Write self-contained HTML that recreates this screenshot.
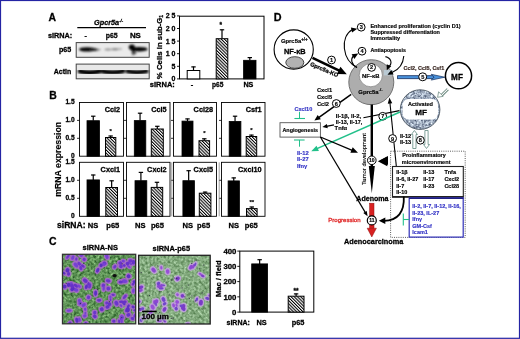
<!DOCTYPE html><html><head><meta charset="utf-8"><style>html,body{margin:0;padding:0;background:#fff;overflow:hidden}svg{display:block}</style></head><body><svg width="520" height="339" viewBox="0 0 520 339" font-family='"Liberation Sans", Arial, sans-serif'>
<defs>
<pattern id="hatch" patternUnits="userSpaceOnUse" width="2.25" height="2.25" patternTransform="rotate(-45)">
<rect width="2.25" height="2.25" fill="#fff"/><rect width="1.05" height="2.25" fill="#000"/></pattern>
<filter id="blur1" x="-20%" y="-60%" width="140%" height="220%"><feGaussianBlur stdDeviation="0.8"/></filter>
<filter id="blur08" x="-30%" y="-60%" width="160%" height="220%"><feGaussianBlur stdDeviation="1.0"/></filter>
<filter id="blur05" x="-30%" y="-30%" width="160%" height="160%"><feGaussianBlur stdDeviation="0.5"/></filter>
<filter id="blur03" x="-30%" y="-30%" width="160%" height="160%"><feGaussianBlur stdDeviation="0.35"/></filter>
<filter id="tex1" x="0" y="0" width="100%" height="100%" color-interpolation-filters="sRGB">
<feTurbulence type="fractalNoise" baseFrequency="0.45" numOctaves="2" seed="4"/>
<feColorMatrix type="matrix" values="0.85 0 0 0 -0.06  0.85 0 0 0 0.15  0.75 0 0 0 -0.04  0 0 0 0 1"/>
</filter>
<filter id="tex2" x="0" y="0" width="100%" height="100%" color-interpolation-filters="sRGB">
<feTurbulence type="fractalNoise" baseFrequency="0.45" numOctaves="2" seed="9"/>
<feColorMatrix type="matrix" values="0.75 0 0 0 0.14  0.7 0 0 0 0.32  0.75 0 0 0 0.12  0 0 0 0 1"/>
</filter>
<filter id="speck" x="0" y="0" width="100%" height="100%" color-interpolation-filters="sRGB">
<feTurbulence type="fractalNoise" baseFrequency="0.45" numOctaves="2" seed="2"/>
<feColorMatrix type="matrix" values="1.1 0 0 0 0.08  1.1 0 0 0 0.13  1.0 0 0 0 0.25  0 0 0 0 1"/>
<feGaussianBlur stdDeviation="0.3"/>
</filter>
</defs>
<rect x="0" y="0" width="520" height="339" fill="#fff"/>
<text x="48.5" y="21.1" font-size="10.4" text-anchor="start" font-weight="bold" fill="#000" stroke="#000" stroke-width="0.28" >A</text>
<text x="94" y="25.3" font-size="7.3" text-anchor="start" font-weight="bold" fill="#000" stroke="#000" stroke-width="0.28" ><tspan font-style="italic">Gpcr5a</tspan><tspan font-size="4.2" dy="-3" font-style="italic">-/-</tspan></text>
<line x1="77.3" y1="27.7" x2="146" y2="27.7" stroke="#000" stroke-width="1.2" />
<text x="48" y="37.7" font-size="7.2" text-anchor="start" font-weight="bold" fill="#000" stroke="#000" stroke-width="0.28" textLength="24.3" lengthAdjust="spacingAndGlyphs" >siRNA:</text>
<text x="85.6" y="37.7" font-size="7.2" text-anchor="middle" font-weight="bold" fill="#000" stroke="#000" stroke-width="0.28" >-</text>
<text x="111.7" y="37.7" font-size="7.2" text-anchor="middle" font-weight="bold" fill="#000" stroke="#000" stroke-width="0.28" textLength="12" lengthAdjust="spacingAndGlyphs" >p65</text>
<text x="135.4" y="37.7" font-size="7.2" text-anchor="middle" font-weight="bold" fill="#000" stroke="#000" stroke-width="0.28" textLength="11" lengthAdjust="spacingAndGlyphs" >NS</text>
<text x="71.3" y="52.2" font-size="7.2" text-anchor="end" font-weight="bold" fill="#000" stroke="#000" stroke-width="0.28" textLength="12.4" lengthAdjust="spacingAndGlyphs" >p65</text>
<text x="71.3" y="74" font-size="7.2" text-anchor="end" font-weight="bold" fill="#000" stroke="#000" stroke-width="0.28" textLength="17.5" lengthAdjust="spacingAndGlyphs" >Actin</text>
<rect x="76.2" y="42.6" width="73" height="14.7" fill="#ebebeb" stroke="#444" stroke-width="1.0" />
<rect x="76.2" y="64.1" width="73" height="14.7" fill="#e8e8e8" stroke="#444" stroke-width="1.0" />
<g filter="url(#blur08)">
<ellipse cx="87" cy="49.4" rx="8" ry="2.2" fill="#000"/>
<ellipse cx="93.5" cy="49.6" rx="6" ry="1.3" fill="#111"/>
<ellipse cx="99" cy="49.6" rx="2" ry="0.7" fill="#777"/>
<ellipse cx="108" cy="49.5" rx="3.5" ry="0.9" fill="#8a8a8a"/>
<ellipse cx="115" cy="49.2" rx="3.5" ry="1.0" fill="#7a7a7a"/>
<ellipse cx="120" cy="49.0" rx="2.2" ry="0.8" fill="#999"/>
<ellipse cx="139" cy="49.2" rx="8.6" ry="2.3" fill="#000"/>
<ellipse cx="131.8" cy="47.2" rx="3.0" ry="2.6" fill="#000"/>
<ellipse cx="133.2" cy="50" rx="1.4" ry="5.2" fill="#000"/>
<ellipse cx="134" cy="53" rx="2.5" ry="1.2" fill="#444"/>
</g><g filter="url(#blur08)" fill="none" stroke-linecap="round">
<path d="M80,71.3 Q89.5,74 99.5,71.3" stroke="#000" stroke-width="4.6"/>
<path d="M103,71.3 Q113,73.6 123,71.1" stroke="#000" stroke-width="4.4"/>
<path d="M127.5,71.3 Q137,73.4 146.5,71.3" stroke="#000" stroke-width="4.2"/>
</g>
<rect x="179.5" y="16.2" width="84.5" height="62.7" fill="none" stroke="#000" stroke-width="1" />
<line x1="177" y1="78.9" x2="179.5" y2="78.9" stroke="#000" stroke-width="0.9" />
<text x="175.5" y="81.4" font-size="7" text-anchor="end" font-weight="bold" fill="#000" stroke="#000" stroke-width="0.28" >0</text>
<line x1="177" y1="66.30000000000001" x2="179.5" y2="66.30000000000001" stroke="#000" stroke-width="0.9" />
<text x="175.5" y="68.80000000000001" font-size="7" text-anchor="end" font-weight="bold" fill="#000" stroke="#000" stroke-width="0.28" >5</text>
<line x1="177" y1="53.7" x2="179.5" y2="53.7" stroke="#000" stroke-width="0.9" />
<text x="175.5" y="56.2" font-size="7" text-anchor="end" font-weight="bold" fill="#000" stroke="#000" stroke-width="0.28" >1 0</text>
<line x1="177" y1="41.10000000000001" x2="179.5" y2="41.10000000000001" stroke="#000" stroke-width="0.9" />
<text x="175.5" y="43.60000000000001" font-size="7" text-anchor="end" font-weight="bold" fill="#000" stroke="#000" stroke-width="0.28" >1 5</text>
<line x1="177" y1="28.500000000000007" x2="179.5" y2="28.500000000000007" stroke="#000" stroke-width="0.9" />
<text x="175.5" y="31.000000000000007" font-size="7" text-anchor="end" font-weight="bold" fill="#000" stroke="#000" stroke-width="0.28" >2 0</text>
<line x1="177" y1="15.900000000000006" x2="179.5" y2="15.900000000000006" stroke="#000" stroke-width="0.9" />
<text x="175.5" y="18.400000000000006" font-size="7" text-anchor="end" font-weight="bold" fill="#000" stroke="#000" stroke-width="0.28" >2 5</text>
<text transform="translate(161.8,47) rotate(-90)" font-size="7.8" font-weight="bold" text-anchor="middle" fill="#000" stroke="#000" stroke-width="0.28">% Cells in sub-G<tspan font-size="5" dy="1.5">1</tspan></text>
<line x1="193.5" y1="66.6" x2="193.5" y2="70.5" stroke="#000" stroke-width="1.2" />
<line x1="191.3" y1="66.89999999999999" x2="195.7" y2="66.89999999999999" stroke="#000" stroke-width="1.2" />
<rect x="187.2" y="70.5" width="12.600000000000023" height="8.400000000000006" fill="#fff" stroke="#000" stroke-width="1.0" />
<line x1="222.0" y1="29.5" x2="222.0" y2="38.7" stroke="#000" stroke-width="1.2" />
<line x1="219.8" y1="29.8" x2="224.2" y2="29.8" stroke="#000" stroke-width="1.2" />
<rect x="216.2" y="38.7" width="11.600000000000023" height="40.2" fill="url(#hatch)" stroke="#000" stroke-width="1.0" />
<line x1="249.8" y1="57.3" x2="249.8" y2="60.3" stroke="#000" stroke-width="1.2" />
<line x1="247.60000000000002" y1="57.599999999999994" x2="252.0" y2="57.599999999999994" stroke="#000" stroke-width="1.2" />
<rect x="243.6" y="60.3" width="12.400000000000006" height="18.60000000000001" fill="#000" stroke="#000" stroke-width="0.8" />
<text x="220.8" y="26.5" font-size="6.5" text-anchor="middle" font-weight="bold" fill="#000" stroke="#000" stroke-width="0.28" >*</text>
<text x="149.8" y="86.9" font-size="7.4" text-anchor="start" font-weight="bold" fill="#000" stroke="#000" stroke-width="0.28" textLength="25" lengthAdjust="spacingAndGlyphs" >siRNA:</text>
<text x="191.9" y="86.9" font-size="7.4" text-anchor="middle" font-weight="bold" fill="#000" stroke="#000" stroke-width="0.28" >-</text>
<text x="217.7" y="86.9" font-size="7.4" text-anchor="middle" font-weight="bold" fill="#000" stroke="#000" stroke-width="0.28" textLength="11.5" lengthAdjust="spacingAndGlyphs" >p65</text>
<text x="248.4" y="86.9" font-size="7.4" text-anchor="middle" font-weight="bold" fill="#000" stroke="#000" stroke-width="0.28" textLength="10" lengthAdjust="spacingAndGlyphs" >NS</text>
<text x="49.2" y="99.2" font-size="10.4" text-anchor="start" font-weight="bold" fill="#000" stroke="#000" stroke-width="0.28" >B</text>
<text transform="translate(61.3,159.3) rotate(-90)" font-size="9.0" font-weight="bold" text-anchor="middle" fill="#000" stroke="#000" stroke-width="0.15" textLength="75" lengthAdjust="spacingAndGlyphs">mRNA expression</text>
<rect x="79.5" y="102.5" width="44.0" height="53.69999999999999" fill="none" stroke="#000" stroke-width="0.9" />
<line x1="77.0" y1="138.29999999999998" x2="79.5" y2="138.29999999999998" stroke="#000" stroke-width="0.8" />
<line x1="77.0" y1="120.4" x2="79.5" y2="120.4" stroke="#000" stroke-width="0.8" />
<text x="120.1" y="111.8" font-size="7.3" text-anchor="end" font-weight="bold" fill="#000" stroke="#000" stroke-width="0.28" >Ccl2</text>
<line x1="93.25" y1="115.9" x2="93.25" y2="120.69999999999999" stroke="#000" stroke-width="1.2" />
<line x1="91.05" y1="116.2" x2="95.45" y2="116.2" stroke="#000" stroke-width="1.2" />
<rect x="87" y="120.69999999999999" width="12.5" height="35.5" fill="#000" stroke="#000" stroke-width="0.8" />
<line x1="110.65" y1="135.7" x2="110.65" y2="137.5" stroke="#000" stroke-width="1.2" />
<line x1="108.45" y1="136.0" x2="112.85000000000001" y2="136.0" stroke="#000" stroke-width="1.2" />
<rect x="105.5" y="137.5" width="10.299999999999997" height="18.69999999999999" fill="url(#hatch)" stroke="#000" stroke-width="1.0" />
<text x="110.65" y="132.5" font-size="6" text-anchor="middle" font-weight="bold" fill="#000" stroke="#000" stroke-width="0.16" >*</text>
<rect x="126.5" y="102.5" width="43.5" height="53.69999999999999" fill="none" stroke="#000" stroke-width="0.9" />
<line x1="124.0" y1="138.29999999999998" x2="126.5" y2="138.29999999999998" stroke="#000" stroke-width="0.8" />
<line x1="124.0" y1="120.4" x2="126.5" y2="120.4" stroke="#000" stroke-width="0.8" />
<text x="166.6" y="111.8" font-size="7.3" text-anchor="end" font-weight="bold" fill="#000" stroke="#000" stroke-width="0.28" >Ccl5</text>
<line x1="140.05" y1="112.9" x2="140.05" y2="120.6" stroke="#000" stroke-width="1.2" />
<line x1="137.85000000000002" y1="113.2" x2="142.25" y2="113.2" stroke="#000" stroke-width="1.2" />
<rect x="134.3" y="120.6" width="11.5" height="35.599999999999994" fill="#000" stroke="#000" stroke-width="0.8" />
<line x1="157.3" y1="126.0" x2="157.3" y2="129.0" stroke="#000" stroke-width="1.2" />
<line x1="155.10000000000002" y1="126.3" x2="159.5" y2="126.3" stroke="#000" stroke-width="1.2" />
<rect x="151.3" y="129.0" width="12.0" height="27.19999999999999" fill="url(#hatch)" stroke="#000" stroke-width="1.0" />
<rect x="173.5" y="102.5" width="43.0" height="53.69999999999999" fill="none" stroke="#000" stroke-width="0.9" />
<line x1="171.0" y1="138.29999999999998" x2="173.5" y2="138.29999999999998" stroke="#000" stroke-width="0.8" />
<line x1="171.0" y1="120.4" x2="173.5" y2="120.4" stroke="#000" stroke-width="0.8" />
<text x="213.1" y="111.8" font-size="7.3" text-anchor="end" font-weight="bold" fill="#000" stroke="#000" stroke-width="0.28" >Ccl28</text>
<line x1="187.5" y1="118.60000000000001" x2="187.5" y2="121.1" stroke="#000" stroke-width="1.2" />
<line x1="185.3" y1="118.9" x2="189.7" y2="118.9" stroke="#000" stroke-width="1.2" />
<rect x="182" y="121.1" width="11" height="35.099999999999994" fill="#000" stroke="#000" stroke-width="0.8" />
<line x1="204.3" y1="138.5" x2="204.3" y2="140.7" stroke="#000" stroke-width="1.2" />
<line x1="202.10000000000002" y1="138.8" x2="206.5" y2="138.8" stroke="#000" stroke-width="1.2" />
<rect x="199" y="140.7" width="10.599999999999994" height="15.5" fill="url(#hatch)" stroke="#000" stroke-width="1.0" />
<text x="204.3" y="135.3" font-size="6" text-anchor="middle" font-weight="bold" fill="#000" stroke="#000" stroke-width="0.16" >*</text>
<rect x="221.5" y="102.5" width="43.5" height="53.69999999999999" fill="none" stroke="#000" stroke-width="0.9" />
<line x1="219.0" y1="138.29999999999998" x2="221.5" y2="138.29999999999998" stroke="#000" stroke-width="0.8" />
<line x1="219.0" y1="120.4" x2="221.5" y2="120.4" stroke="#000" stroke-width="0.8" />
<text x="261.6" y="111.8" font-size="7.3" text-anchor="end" font-weight="bold" fill="#000" stroke="#000" stroke-width="0.28" >Csf1</text>
<line x1="235.05" y1="115.9" x2="235.05" y2="121.39999999999999" stroke="#000" stroke-width="1.2" />
<line x1="232.85000000000002" y1="116.2" x2="237.25" y2="116.2" stroke="#000" stroke-width="1.2" />
<rect x="229.2" y="121.39999999999999" width="11.700000000000017" height="34.8" fill="#000" stroke="#000" stroke-width="0.8" />
<line x1="251.45" y1="134.8" x2="251.45" y2="136.5" stroke="#000" stroke-width="1.2" />
<line x1="249.25" y1="135.10000000000002" x2="253.64999999999998" y2="135.10000000000002" stroke="#000" stroke-width="1.2" />
<rect x="246.2" y="136.5" width="10.5" height="19.69999999999999" fill="url(#hatch)" stroke="#000" stroke-width="1.0" />
<text x="251.45" y="131.60000000000002" font-size="6" text-anchor="middle" font-weight="bold" fill="#000" stroke="#000" stroke-width="0.16" >*</text>
<text x="74.6" y="158.0" font-size="6.6" text-anchor="end" font-weight="bold" fill="#000" stroke="#000" stroke-width="0.28" >0</text>
<text x="74.6" y="140.1" font-size="6.6" text-anchor="end" font-weight="bold" fill="#000" stroke="#000" stroke-width="0.28" >0.5</text>
<text x="74.6" y="122.2" font-size="6.6" text-anchor="end" font-weight="bold" fill="#000" stroke="#000" stroke-width="0.28" >1.0</text>
<text x="74.6" y="104.3" font-size="6.6" text-anchor="end" font-weight="bold" fill="#000" stroke="#000" stroke-width="0.28" >1.5</text>
<rect x="79.5" y="162.3" width="44.0" height="54.0" fill="none" stroke="#000" stroke-width="0.9" />
<line x1="77.0" y1="198.3" x2="79.5" y2="198.3" stroke="#000" stroke-width="0.8" />
<line x1="77.0" y1="180.3" x2="79.5" y2="180.3" stroke="#000" stroke-width="0.8" />
<text x="120.1" y="171.60000000000002" font-size="7.3" text-anchor="end" font-weight="bold" fill="#000" stroke="#000" stroke-width="0.28" >Cxcl1</text>
<line x1="93.25" y1="174.70000000000002" x2="93.25" y2="179.9" stroke="#000" stroke-width="1.2" />
<line x1="91.05" y1="175.00000000000003" x2="95.45" y2="175.00000000000003" stroke="#000" stroke-width="1.2" />
<rect x="87" y="179.9" width="12.5" height="36.400000000000006" fill="#000" stroke="#000" stroke-width="0.8" />
<line x1="111.65" y1="180.5" x2="111.65" y2="187.5" stroke="#000" stroke-width="1.2" />
<line x1="109.45" y1="180.8" x2="113.85000000000001" y2="180.8" stroke="#000" stroke-width="1.2" />
<rect x="105.8" y="187.5" width="11.700000000000003" height="28.80000000000001" fill="url(#hatch)" stroke="#000" stroke-width="1.0" />
<rect x="126.5" y="162.3" width="43.5" height="54.0" fill="none" stroke="#000" stroke-width="0.9" />
<line x1="124.0" y1="198.3" x2="126.5" y2="198.3" stroke="#000" stroke-width="0.8" />
<line x1="124.0" y1="180.3" x2="126.5" y2="180.3" stroke="#000" stroke-width="0.8" />
<text x="166.6" y="171.60000000000002" font-size="7.3" text-anchor="end" font-weight="bold" fill="#000" stroke="#000" stroke-width="0.28" >Cxcl2</text>
<line x1="140.9" y1="172.1" x2="140.9" y2="180.7" stroke="#000" stroke-width="1.2" />
<line x1="138.70000000000002" y1="172.4" x2="143.1" y2="172.4" stroke="#000" stroke-width="1.2" />
<rect x="135" y="180.7" width="11.800000000000011" height="35.60000000000002" fill="#000" stroke="#000" stroke-width="0.8" />
<line x1="156.95" y1="182.0" x2="156.95" y2="187.39999999999998" stroke="#000" stroke-width="1.2" />
<line x1="154.75" y1="182.3" x2="159.14999999999998" y2="182.3" stroke="#000" stroke-width="1.2" />
<rect x="151.2" y="187.39999999999998" width="11.5" height="28.900000000000034" fill="url(#hatch)" stroke="#000" stroke-width="1.0" />
<rect x="173.5" y="162.3" width="43.0" height="54.0" fill="none" stroke="#000" stroke-width="0.9" />
<line x1="171.0" y1="198.3" x2="173.5" y2="198.3" stroke="#000" stroke-width="0.8" />
<line x1="171.0" y1="180.3" x2="173.5" y2="180.3" stroke="#000" stroke-width="0.8" />
<text x="213.1" y="171.60000000000002" font-size="7.3" text-anchor="end" font-weight="bold" fill="#000" stroke="#000" stroke-width="0.28" >Cxcl5</text>
<line x1="188.65" y1="170.4" x2="188.65" y2="180.7" stroke="#000" stroke-width="1.2" />
<line x1="186.45000000000002" y1="170.70000000000002" x2="190.85" y2="170.70000000000002" stroke="#000" stroke-width="1.2" />
<rect x="182.9" y="180.7" width="11.5" height="35.60000000000002" fill="#000" stroke="#000" stroke-width="0.8" />
<line x1="205.10000000000002" y1="191.8" x2="205.10000000000002" y2="193.2" stroke="#000" stroke-width="1.2" />
<line x1="202.90000000000003" y1="192.10000000000002" x2="207.3" y2="192.10000000000002" stroke="#000" stroke-width="1.2" />
<rect x="199.3" y="193.2" width="11.599999999999994" height="23.100000000000023" fill="url(#hatch)" stroke="#000" stroke-width="1.0" />
<rect x="221.5" y="162.3" width="43.5" height="54.0" fill="none" stroke="#000" stroke-width="0.9" />
<line x1="219.0" y1="198.3" x2="221.5" y2="198.3" stroke="#000" stroke-width="0.8" />
<line x1="219.0" y1="180.3" x2="221.5" y2="180.3" stroke="#000" stroke-width="0.8" />
<text x="261.6" y="171.60000000000002" font-size="7.3" text-anchor="end" font-weight="bold" fill="#000" stroke="#000" stroke-width="0.28" >Cxcl10</text>
<line x1="233.75" y1="177.6" x2="233.75" y2="180.9" stroke="#000" stroke-width="1.2" />
<line x1="231.55" y1="177.9" x2="235.95" y2="177.9" stroke="#000" stroke-width="1.2" />
<rect x="228.1" y="180.9" width="11.300000000000011" height="35.400000000000006" fill="#000" stroke="#000" stroke-width="0.8" />
<line x1="251.8" y1="206.7" x2="251.8" y2="208.6" stroke="#000" stroke-width="1.2" />
<line x1="249.60000000000002" y1="207.0" x2="254.0" y2="207.0" stroke="#000" stroke-width="1.2" />
<rect x="246.5" y="208.6" width="10.600000000000023" height="7.700000000000017" fill="url(#hatch)" stroke="#000" stroke-width="1.0" />
<text x="251.8" y="203.5" font-size="6" text-anchor="middle" font-weight="bold" fill="#000" stroke="#000" stroke-width="0.16" >**</text>
<line x1="171.8" y1="162.3" x2="171.8" y2="216.3" stroke="#777" stroke-width="0.7" />
<line x1="219.2" y1="162.3" x2="219.2" y2="216.3" stroke="#777" stroke-width="0.7" />
<text x="74.6" y="218.10000000000002" font-size="6.6" text-anchor="end" font-weight="bold" fill="#000" stroke="#000" stroke-width="0.28" >0</text>
<text x="74.6" y="200.10000000000002" font-size="6.6" text-anchor="end" font-weight="bold" fill="#000" stroke="#000" stroke-width="0.28" >0.5</text>
<text x="74.6" y="182.10000000000002" font-size="6.6" text-anchor="end" font-weight="bold" fill="#000" stroke="#000" stroke-width="0.28" >1.0</text>
<text x="74.6" y="164.10000000000002" font-size="6.6" text-anchor="end" font-weight="bold" fill="#000" stroke="#000" stroke-width="0.28" >1.5</text>
<text x="57" y="228.3" font-size="8.3" text-anchor="start" font-weight="bold" fill="#000" stroke="#000" stroke-width="0.28" textLength="28.5" lengthAdjust="spacingAndGlyphs" >siRNA:</text>
<text x="93" y="228.3" font-size="7.6" text-anchor="middle" font-weight="bold" fill="#000" stroke="#000" stroke-width="0.28" >NS</text>
<text x="140.3" y="228.3" font-size="7.6" text-anchor="middle" font-weight="bold" fill="#000" stroke="#000" stroke-width="0.28" >NS</text>
<text x="187.8" y="228.3" font-size="7.6" text-anchor="middle" font-weight="bold" fill="#000" stroke="#000" stroke-width="0.28" >NS</text>
<text x="233.9" y="228.3" font-size="7.6" text-anchor="middle" font-weight="bold" fill="#000" stroke="#000" stroke-width="0.28" >NS</text>
<text x="112.8" y="228.3" font-size="7.6" text-anchor="middle" font-weight="bold" fill="#000" stroke="#000" stroke-width="0.28" >p65</text>
<text x="157.5" y="228.3" font-size="7.6" text-anchor="middle" font-weight="bold" fill="#000" stroke="#000" stroke-width="0.28" >p65</text>
<text x="203.6" y="228.3" font-size="7.6" text-anchor="middle" font-weight="bold" fill="#000" stroke="#000" stroke-width="0.28" >p65</text>
<text x="251.3" y="228.3" font-size="7.6" text-anchor="middle" font-weight="bold" fill="#000" stroke="#000" stroke-width="0.28" >p65</text>
<text x="49.0" y="244.8" font-size="10.4" text-anchor="start" font-weight="bold" fill="#000" stroke="#000" stroke-width="0.28" >C</text>
<text x="100.3" y="250.2" font-size="7.4" text-anchor="middle" font-weight="bold" fill="#000" stroke="#000" stroke-width="0.28" textLength="35.5" lengthAdjust="spacingAndGlyphs" >siRNA-NS</text>
<text x="171.3" y="251.4" font-size="7.4" text-anchor="middle" font-weight="bold" fill="#000" stroke="#000" stroke-width="0.28" textLength="37.5" lengthAdjust="spacingAndGlyphs" >siRNA-p65</text>
<svg x="62.5" y="254.3" width="73.2" height="69.5" viewBox="0 0 73.2 69.5">
<rect x="-36.6" y="-34.75" width="146.4" height="139.0" filter="url(#tex1)" transform="rotate(-40 36.6 34.75)"/>
<g filter="url(#blur05)" fill="#a868cc" opacity="0.9">
<ellipse cx="33.1" cy="38.9" rx="4.2" ry="2.8" transform="rotate(91 33.1 38.9)"/>
<ellipse cx="13.5" cy="35.6" rx="3.8" ry="3.1" transform="rotate(17 13.5 35.6)"/>
<ellipse cx="6.6" cy="56.3" rx="3.9" ry="2.4" transform="rotate(177 6.6 56.3)"/>
<ellipse cx="47.9" cy="42.8" rx="3.2" ry="2.4" transform="rotate(95 47.9 42.8)"/>
<ellipse cx="48.0" cy="45.6" rx="2.9" ry="2.2" transform="rotate(95 48.0 45.6)"/>
<ellipse cx="2.2" cy="32.2" rx="3.6" ry="3.2" transform="rotate(93 2.2 32.2)"/>
<ellipse cx="36.6" cy="46.0" rx="3.6" ry="2.7" transform="rotate(180 36.6 46.0)"/>
<ellipse cx="61.5" cy="49.2" rx="3.4" ry="2.6" transform="rotate(52 61.5 49.2)"/>
<ellipse cx="58.5" cy="51.3" rx="3.0" ry="2.3" transform="rotate(52 58.5 51.3)"/>
<ellipse cx="62.0" cy="26.9" rx="4.2" ry="3.2" transform="rotate(0 62.0 26.9)"/>
<ellipse cx="58.2" cy="27.6" rx="3.7" ry="2.8" transform="rotate(0 58.2 27.6)"/>
<ellipse cx="71.8" cy="27.6" rx="3.1" ry="3.0" transform="rotate(140 71.8 27.6)"/>
<ellipse cx="70.5" cy="29.9" rx="2.8" ry="2.6" transform="rotate(140 70.5 29.9)"/>
<ellipse cx="70.6" cy="52.7" rx="3.2" ry="2.6" transform="rotate(18 70.6 52.7)"/>
<ellipse cx="72.2" cy="56.0" rx="2.8" ry="2.4" transform="rotate(18 72.2 56.0)"/>
<ellipse cx="40.9" cy="31.1" rx="3.2" ry="3.1" transform="rotate(24 40.9 31.1)"/>
<ellipse cx="8.5" cy="29.2" rx="3.3" ry="2.6" transform="rotate(175 8.5 29.2)"/>
<ellipse cx="22.3" cy="61.5" rx="3.3" ry="2.8" transform="rotate(154 22.3 61.5)"/>
<ellipse cx="7.3" cy="68.8" rx="3.3" ry="2.6" transform="rotate(139 7.3 68.8)"/>
<ellipse cx="21.7" cy="5.1" rx="3.1" ry="2.9" transform="rotate(44 21.7 5.1)"/>
<ellipse cx="27.2" cy="31.5" rx="4.2" ry="2.8" transform="rotate(103 27.2 31.5)"/>
<ellipse cx="13.4" cy="10.7" rx="4.2" ry="3.1" transform="rotate(45 13.4 10.7)"/>
<ellipse cx="16.7" cy="9.4" rx="3.6" ry="2.8" transform="rotate(45 16.7 9.4)"/>
<ellipse cx="14.4" cy="66.0" rx="4.1" ry="2.9" transform="rotate(76 14.4 66.0)"/>
<ellipse cx="16.9" cy="65.4" rx="3.6" ry="2.6" transform="rotate(76 16.9 65.4)"/>
<ellipse cx="17.5" cy="49.0" rx="3.3" ry="3.1" transform="rotate(107 17.5 49.0)"/>
<ellipse cx="16.9" cy="46.3" rx="3.0" ry="2.8" transform="rotate(107 16.9 46.3)"/>
<ellipse cx="5.0" cy="15.9" rx="3.7" ry="3.2" transform="rotate(111 5.0 15.9)"/>
<ellipse cx="6.1" cy="19.6" rx="3.3" ry="2.8" transform="rotate(111 6.1 19.6)"/>
<ellipse cx="1.2" cy="18.7" rx="3.6" ry="2.5" transform="rotate(32 1.2 18.7)"/>
<ellipse cx="41.9" cy="9.1" rx="3.5" ry="3.2" transform="rotate(176 41.9 9.1)"/>
<ellipse cx="50.6" cy="40.6" rx="3.2" ry="2.4" transform="rotate(3 50.6 40.6)"/>
<ellipse cx="51.3" cy="66.9" rx="3.0" ry="3.0" transform="rotate(87 51.3 66.9)"/>
<ellipse cx="23.3" cy="69.5" rx="3.1" ry="2.9" transform="rotate(133 23.3 69.5)"/>
<ellipse cx="54.0" cy="48.9" rx="4.0" ry="3.2" transform="rotate(63 54.0 48.9)"/>
<ellipse cx="65.9" cy="60.5" rx="3.5" ry="3.1" transform="rotate(155 65.9 60.5)"/>
<ellipse cx="45.7" cy="26.6" rx="3.8" ry="2.9" transform="rotate(14 45.7 26.6)"/>
<ellipse cx="72.7" cy="61.1" rx="3.9" ry="2.7" transform="rotate(132 72.7 61.1)"/>
<ellipse cx="32.2" cy="58.3" rx="3.1" ry="3.1" transform="rotate(5 32.2 58.3)"/>
<ellipse cx="35.2" cy="16.0" rx="3.9" ry="2.8" transform="rotate(111 35.2 16.0)"/>
<ellipse cx="18.7" cy="0.8" rx="3.4" ry="3.0" transform="rotate(36 18.7 0.8)"/>
<ellipse cx="16.7" cy="-2.5" rx="3.0" ry="2.7" transform="rotate(36 16.7 -2.5)"/>
<ellipse cx="32.3" cy="62.0" rx="3.4" ry="3.0" transform="rotate(36 32.3 62.0)"/>
<ellipse cx="59.0" cy="63.5" rx="4.1" ry="2.7" transform="rotate(105 59.0 63.5)"/>
<ellipse cx="10.0" cy="34.5" rx="4.1" ry="3.2" transform="rotate(128 10.0 34.5)"/>
<ellipse cx="20.3" cy="11.8" rx="3.6" ry="2.6" transform="rotate(39 20.3 11.8)"/>
<ellipse cx="45.8" cy="34.3" rx="3.4" ry="3.2" transform="rotate(177 45.8 34.3)"/>
<ellipse cx="5.5" cy="2.2" rx="4.1" ry="2.4" transform="rotate(128 5.5 2.2)"/>
<ellipse cx="22.6" cy="55.0" rx="3.0" ry="2.5" transform="rotate(82 22.6 55.0)"/>
<ellipse cx="22.9" cy="58.7" rx="2.7" ry="2.3" transform="rotate(82 22.9 58.7)"/>
<ellipse cx="10.3" cy="3.3" rx="3.8" ry="2.8" transform="rotate(113 10.3 3.3)"/>
<ellipse cx="59.1" cy="66.6" rx="3.9" ry="2.6" transform="rotate(86 59.1 66.6)"/>
<ellipse cx="56.6" cy="67.1" rx="3.4" ry="2.3" transform="rotate(86 56.6 67.1)"/>
<ellipse cx="52.3" cy="12.4" rx="3.4" ry="2.7" transform="rotate(126 52.3 12.4)"/>
<ellipse cx="45.0" cy="52.6" rx="3.5" ry="3.1" transform="rotate(163 45.0 52.6)"/>
<ellipse cx="44.3" cy="48.7" rx="3.1" ry="2.8" transform="rotate(163 44.3 48.7)"/>
<ellipse cx="9.5" cy="31.5" rx="3.8" ry="3.2" transform="rotate(68 9.5 31.5)"/>
<ellipse cx="64.4" cy="55.4" rx="4.2" ry="2.8" transform="rotate(117 64.4 55.4)"/>
<ellipse cx="65.8" cy="52.1" rx="3.7" ry="2.5" transform="rotate(117 65.8 52.1)"/>
<ellipse cx="47.0" cy="49.9" rx="3.3" ry="3.2" transform="rotate(176 47.0 49.9)"/>
<ellipse cx="39.3" cy="55.0" rx="3.4" ry="3.2" transform="rotate(154 39.3 55.0)"/>
<ellipse cx="6.1" cy="30.6" rx="3.7" ry="3.1" transform="rotate(88 6.1 30.6)"/>
<ellipse cx="9.5" cy="32.1" rx="3.3" ry="2.7" transform="rotate(88 9.5 32.1)"/>
<ellipse cx="58.5" cy="12.0" rx="3.4" ry="3.1" transform="rotate(25 58.5 12.0)"/>
<ellipse cx="58.0" cy="8.8" rx="3.0" ry="2.7" transform="rotate(25 58.0 8.8)"/>
<ellipse cx="61.5" cy="47.9" rx="4.2" ry="2.8" transform="rotate(171 61.5 47.9)"/>
<ellipse cx="58.7" cy="47.4" rx="3.7" ry="2.5" transform="rotate(171 58.7 47.4)"/>
<ellipse cx="21.2" cy="50.7" rx="3.8" ry="2.9" transform="rotate(152 21.2 50.7)"/>
<ellipse cx="22.8" cy="26.5" rx="4.1" ry="3.2" transform="rotate(37 22.8 26.5)"/>
<ellipse cx="70.9" cy="36.4" rx="3.7" ry="2.6" transform="rotate(96 70.9 36.4)"/>
<ellipse cx="44.3" cy="1.9" rx="4.3" ry="2.9" transform="rotate(72 44.3 1.9)"/>
<ellipse cx="41.2" cy="34.1" rx="3.9" ry="2.5" transform="rotate(97 41.2 34.1)"/>
<ellipse cx="70.0" cy="64.2" rx="3.3" ry="2.8" transform="rotate(23 70.0 64.2)"/>
<ellipse cx="59.7" cy="62.6" rx="3.6" ry="2.7" transform="rotate(34 59.7 62.6)"/>
<ellipse cx="67.7" cy="9.0" rx="4.0" ry="2.4" transform="rotate(35 67.7 9.0)"/>
<ellipse cx="66.2" cy="12.2" rx="3.5" ry="2.2" transform="rotate(35 66.2 12.2)"/>
<ellipse cx="26.0" cy="43.1" rx="3.1" ry="3.1" transform="rotate(22 26.0 43.1)"/>
<ellipse cx="18.3" cy="13.7" rx="3.7" ry="2.8" transform="rotate(68 18.3 13.7)"/>
<ellipse cx="38.7" cy="11.1" rx="3.3" ry="3.0" transform="rotate(115 38.7 11.1)"/>
<ellipse cx="62.3" cy="42.5" rx="4.1" ry="2.6" transform="rotate(133 62.3 42.5)"/>
<ellipse cx="66.1" cy="22.0" rx="3.4" ry="3.2" transform="rotate(39 66.1 22.0)"/>
<ellipse cx="65.0" cy="9.3" rx="3.3" ry="3.1" transform="rotate(47 65.0 9.3)"/>
<ellipse cx="61.7" cy="11.1" rx="2.9" ry="2.7" transform="rotate(47 61.7 11.1)"/>
<ellipse cx="57.8" cy="8.8" rx="3.5" ry="3.0" transform="rotate(3 57.8 8.8)"/>
<ellipse cx="60.8" cy="6.9" rx="3.1" ry="2.7" transform="rotate(3 60.8 6.9)"/>
<ellipse cx="70.9" cy="8.0" rx="3.7" ry="3.1" transform="rotate(91 70.9 8.0)"/>
<ellipse cx="13.8" cy="4.9" rx="3.1" ry="2.4" transform="rotate(99 13.8 4.9)"/>
<ellipse cx="41.6" cy="10.2" rx="3.2" ry="2.6" transform="rotate(151 41.6 10.2)"/>
<ellipse cx="67.8" cy="6.6" rx="3.1" ry="3.3" transform="rotate(83 67.8 6.6)"/>
<ellipse cx="23.9" cy="32.5" rx="3.7" ry="2.8" transform="rotate(108 23.9 32.5)"/>
<ellipse cx="25.9" cy="29.5" rx="3.2" ry="2.5" transform="rotate(108 25.9 29.5)"/>
<ellipse cx="13.3" cy="31.5" rx="4.0" ry="2.8" transform="rotate(35 13.3 31.5)"/>
<ellipse cx="16.5" cy="31.9" rx="3.5" ry="2.5" transform="rotate(35 16.5 31.9)"/>
<ellipse cx="65.4" cy="55.7" rx="3.9" ry="3.2" transform="rotate(113 65.4 55.7)"/>
</g><g filter="url(#blur03)">
<ellipse cx="33.1" cy="38.9" rx="2.7" ry="1.5" transform="rotate(91 33.1 38.9)" fill="#5c2ec4"/>
<ellipse cx="13.5" cy="35.6" rx="2.3" ry="1.8" transform="rotate(17 13.5 35.6)" fill="#7640d4"/>
<ellipse cx="6.6" cy="56.3" rx="2.4" ry="1.1" transform="rotate(177 6.6 56.3)" fill="#7640d4"/>
<ellipse cx="47.9" cy="42.8" rx="1.7" ry="1.1" transform="rotate(95 47.9 42.8)" fill="#7640d4"/>
<ellipse cx="48.0" cy="45.6" rx="1.4" ry="0.9" transform="rotate(95 48.0 45.6)" fill="#6c36cc"/>
<ellipse cx="2.2" cy="32.2" rx="2.1" ry="1.9" transform="rotate(93 2.2 32.2)" fill="#5c2ec4"/>
<ellipse cx="36.6" cy="46.0" rx="2.1" ry="1.4" transform="rotate(180 36.6 46.0)" fill="#6632c8"/>
<ellipse cx="61.5" cy="49.2" rx="1.9" ry="1.3" transform="rotate(52 61.5 49.2)" fill="#5c2ec4"/>
<ellipse cx="58.5" cy="51.3" rx="1.5" ry="1.0" transform="rotate(52 58.5 51.3)" fill="#7640d4"/>
<ellipse cx="62.0" cy="26.9" rx="2.7" ry="1.9" transform="rotate(0 62.0 26.9)" fill="#7640d4"/>
<ellipse cx="58.2" cy="27.6" rx="2.2" ry="1.5" transform="rotate(0 58.2 27.6)" fill="#6632c8"/>
<ellipse cx="71.8" cy="27.6" rx="1.6" ry="1.7" transform="rotate(140 71.8 27.6)" fill="#5c2ec4"/>
<ellipse cx="70.5" cy="29.9" rx="1.3" ry="1.3" transform="rotate(140 70.5 29.9)" fill="#6632c8"/>
<ellipse cx="70.6" cy="52.7" rx="1.7" ry="1.3" transform="rotate(18 70.6 52.7)" fill="#5c2ec4"/>
<ellipse cx="72.2" cy="56.0" rx="1.3" ry="1.1" transform="rotate(18 72.2 56.0)" fill="#5c2ec4"/>
<ellipse cx="40.9" cy="31.1" rx="1.7" ry="1.8" transform="rotate(24 40.9 31.1)" fill="#6c36cc"/>
<ellipse cx="8.5" cy="29.2" rx="1.8" ry="1.3" transform="rotate(175 8.5 29.2)" fill="#7640d4"/>
<ellipse cx="22.3" cy="61.5" rx="1.8" ry="1.5" transform="rotate(154 22.3 61.5)" fill="#7640d4"/>
<ellipse cx="7.3" cy="68.8" rx="1.8" ry="1.3" transform="rotate(139 7.3 68.8)" fill="#6632c8"/>
<ellipse cx="21.7" cy="5.1" rx="1.6" ry="1.6" transform="rotate(44 21.7 5.1)" fill="#6c36cc"/>
<ellipse cx="27.2" cy="31.5" rx="2.7" ry="1.5" transform="rotate(103 27.2 31.5)" fill="#6c36cc"/>
<ellipse cx="13.4" cy="10.7" rx="2.7" ry="1.8" transform="rotate(45 13.4 10.7)" fill="#7640d4"/>
<ellipse cx="16.7" cy="9.4" rx="2.1" ry="1.5" transform="rotate(45 16.7 9.4)" fill="#6c36cc"/>
<ellipse cx="14.4" cy="66.0" rx="2.6" ry="1.6" transform="rotate(76 14.4 66.0)" fill="#5c2ec4"/>
<ellipse cx="16.9" cy="65.4" rx="2.1" ry="1.3" transform="rotate(76 16.9 65.4)" fill="#7640d4"/>
<ellipse cx="17.5" cy="49.0" rx="1.8" ry="1.8" transform="rotate(107 17.5 49.0)" fill="#7640d4"/>
<ellipse cx="16.9" cy="46.3" rx="1.5" ry="1.5" transform="rotate(107 16.9 46.3)" fill="#7640d4"/>
<ellipse cx="5.0" cy="15.9" rx="2.2" ry="1.9" transform="rotate(111 5.0 15.9)" fill="#5c2ec4"/>
<ellipse cx="6.1" cy="19.6" rx="1.8" ry="1.5" transform="rotate(111 6.1 19.6)" fill="#6632c8"/>
<ellipse cx="1.2" cy="18.7" rx="2.1" ry="1.2" transform="rotate(32 1.2 18.7)" fill="#5c2ec4"/>
<ellipse cx="41.9" cy="9.1" rx="2.0" ry="1.9" transform="rotate(176 41.9 9.1)" fill="#6c36cc"/>
<ellipse cx="50.6" cy="40.6" rx="1.7" ry="1.1" transform="rotate(3 50.6 40.6)" fill="#6632c8"/>
<ellipse cx="51.3" cy="66.9" rx="1.5" ry="1.7" transform="rotate(87 51.3 66.9)" fill="#6632c8"/>
<ellipse cx="23.3" cy="69.5" rx="1.6" ry="1.6" transform="rotate(133 23.3 69.5)" fill="#5c2ec4"/>
<ellipse cx="54.0" cy="48.9" rx="2.5" ry="1.9" transform="rotate(63 54.0 48.9)" fill="#6c36cc"/>
<ellipse cx="65.9" cy="60.5" rx="2.0" ry="1.8" transform="rotate(155 65.9 60.5)" fill="#6632c8"/>
<ellipse cx="45.7" cy="26.6" rx="2.3" ry="1.6" transform="rotate(14 45.7 26.6)" fill="#6c36cc"/>
<ellipse cx="72.7" cy="61.1" rx="2.4" ry="1.4" transform="rotate(132 72.7 61.1)" fill="#6c36cc"/>
<ellipse cx="32.2" cy="58.3" rx="1.6" ry="1.8" transform="rotate(5 32.2 58.3)" fill="#6c36cc"/>
<ellipse cx="35.2" cy="16.0" rx="2.4" ry="1.5" transform="rotate(111 35.2 16.0)" fill="#5c2ec4"/>
<ellipse cx="18.7" cy="0.8" rx="1.9" ry="1.7" transform="rotate(36 18.7 0.8)" fill="#7640d4"/>
<ellipse cx="16.7" cy="-2.5" rx="1.5" ry="1.4" transform="rotate(36 16.7 -2.5)" fill="#6632c8"/>
<ellipse cx="32.3" cy="62.0" rx="1.9" ry="1.7" transform="rotate(36 32.3 62.0)" fill="#6632c8"/>
<ellipse cx="59.0" cy="63.5" rx="2.6" ry="1.4" transform="rotate(105 59.0 63.5)" fill="#6c36cc"/>
<ellipse cx="10.0" cy="34.5" rx="2.6" ry="1.9" transform="rotate(128 10.0 34.5)" fill="#5c2ec4"/>
<ellipse cx="20.3" cy="11.8" rx="2.1" ry="1.3" transform="rotate(39 20.3 11.8)" fill="#6632c8"/>
<ellipse cx="45.8" cy="34.3" rx="1.9" ry="1.9" transform="rotate(177 45.8 34.3)" fill="#6c36cc"/>
<ellipse cx="5.5" cy="2.2" rx="2.6" ry="1.1" transform="rotate(128 5.5 2.2)" fill="#6c36cc"/>
<ellipse cx="22.6" cy="55.0" rx="1.5" ry="1.2" transform="rotate(82 22.6 55.0)" fill="#7640d4"/>
<ellipse cx="22.9" cy="58.7" rx="1.2" ry="1.0" transform="rotate(82 22.9 58.7)" fill="#7640d4"/>
<ellipse cx="10.3" cy="3.3" rx="2.3" ry="1.5" transform="rotate(113 10.3 3.3)" fill="#7640d4"/>
<ellipse cx="59.1" cy="66.6" rx="2.4" ry="1.3" transform="rotate(86 59.1 66.6)" fill="#7640d4"/>
<ellipse cx="56.6" cy="67.1" rx="1.9" ry="1.0" transform="rotate(86 56.6 67.1)" fill="#6632c8"/>
<ellipse cx="52.3" cy="12.4" rx="1.9" ry="1.4" transform="rotate(126 52.3 12.4)" fill="#6c36cc"/>
<ellipse cx="45.0" cy="52.6" rx="2.0" ry="1.8" transform="rotate(163 45.0 52.6)" fill="#6632c8"/>
<ellipse cx="44.3" cy="48.7" rx="1.6" ry="1.5" transform="rotate(163 44.3 48.7)" fill="#6c36cc"/>
<ellipse cx="9.5" cy="31.5" rx="2.3" ry="1.9" transform="rotate(68 9.5 31.5)" fill="#6c36cc"/>
<ellipse cx="64.4" cy="55.4" rx="2.7" ry="1.5" transform="rotate(117 64.4 55.4)" fill="#6632c8"/>
<ellipse cx="65.8" cy="52.1" rx="2.2" ry="1.2" transform="rotate(117 65.8 52.1)" fill="#5c2ec4"/>
<ellipse cx="47.0" cy="49.9" rx="1.8" ry="1.9" transform="rotate(176 47.0 49.9)" fill="#6632c8"/>
<ellipse cx="39.3" cy="55.0" rx="1.9" ry="1.9" transform="rotate(154 39.3 55.0)" fill="#6632c8"/>
<ellipse cx="6.1" cy="30.6" rx="2.2" ry="1.8" transform="rotate(88 6.1 30.6)" fill="#5c2ec4"/>
<ellipse cx="9.5" cy="32.1" rx="1.8" ry="1.4" transform="rotate(88 9.5 32.1)" fill="#6632c8"/>
<ellipse cx="58.5" cy="12.0" rx="1.9" ry="1.8" transform="rotate(25 58.5 12.0)" fill="#6c36cc"/>
<ellipse cx="58.0" cy="8.8" rx="1.5" ry="1.4" transform="rotate(25 58.0 8.8)" fill="#6632c8"/>
<ellipse cx="61.5" cy="47.9" rx="2.7" ry="1.5" transform="rotate(171 61.5 47.9)" fill="#6632c8"/>
<ellipse cx="58.7" cy="47.4" rx="2.2" ry="1.2" transform="rotate(171 58.7 47.4)" fill="#6632c8"/>
<ellipse cx="21.2" cy="50.7" rx="2.3" ry="1.6" transform="rotate(152 21.2 50.7)" fill="#7640d4"/>
<ellipse cx="22.8" cy="26.5" rx="2.6" ry="1.9" transform="rotate(37 22.8 26.5)" fill="#6632c8"/>
<ellipse cx="70.9" cy="36.4" rx="2.2" ry="1.3" transform="rotate(96 70.9 36.4)" fill="#7640d4"/>
<ellipse cx="44.3" cy="1.9" rx="2.8" ry="1.6" transform="rotate(72 44.3 1.9)" fill="#7640d4"/>
<ellipse cx="41.2" cy="34.1" rx="2.4" ry="1.2" transform="rotate(97 41.2 34.1)" fill="#7640d4"/>
<ellipse cx="70.0" cy="64.2" rx="1.8" ry="1.5" transform="rotate(23 70.0 64.2)" fill="#6632c8"/>
<ellipse cx="59.7" cy="62.6" rx="2.1" ry="1.4" transform="rotate(34 59.7 62.6)" fill="#7640d4"/>
<ellipse cx="67.7" cy="9.0" rx="2.5" ry="1.1" transform="rotate(35 67.7 9.0)" fill="#7640d4"/>
<ellipse cx="66.2" cy="12.2" rx="2.0" ry="0.9" transform="rotate(35 66.2 12.2)" fill="#7640d4"/>
<ellipse cx="26.0" cy="43.1" rx="1.6" ry="1.8" transform="rotate(22 26.0 43.1)" fill="#6c36cc"/>
<ellipse cx="18.3" cy="13.7" rx="2.2" ry="1.5" transform="rotate(68 18.3 13.7)" fill="#6c36cc"/>
<ellipse cx="38.7" cy="11.1" rx="1.8" ry="1.7" transform="rotate(115 38.7 11.1)" fill="#5c2ec4"/>
<ellipse cx="62.3" cy="42.5" rx="2.6" ry="1.3" transform="rotate(133 62.3 42.5)" fill="#6c36cc"/>
<ellipse cx="66.1" cy="22.0" rx="1.9" ry="1.9" transform="rotate(39 66.1 22.0)" fill="#5c2ec4"/>
<ellipse cx="65.0" cy="9.3" rx="1.8" ry="1.8" transform="rotate(47 65.0 9.3)" fill="#6632c8"/>
<ellipse cx="61.7" cy="11.1" rx="1.4" ry="1.4" transform="rotate(47 61.7 11.1)" fill="#6632c8"/>
<ellipse cx="57.8" cy="8.8" rx="2.0" ry="1.7" transform="rotate(3 57.8 8.8)" fill="#6c36cc"/>
<ellipse cx="60.8" cy="6.9" rx="1.6" ry="1.4" transform="rotate(3 60.8 6.9)" fill="#7640d4"/>
<ellipse cx="70.9" cy="8.0" rx="2.2" ry="1.8" transform="rotate(91 70.9 8.0)" fill="#6632c8"/>
<ellipse cx="13.8" cy="4.9" rx="1.6" ry="1.1" transform="rotate(99 13.8 4.9)" fill="#6c36cc"/>
<ellipse cx="41.6" cy="10.2" rx="1.7" ry="1.3" transform="rotate(151 41.6 10.2)" fill="#7640d4"/>
<ellipse cx="67.8" cy="6.6" rx="1.6" ry="2.0" transform="rotate(83 67.8 6.6)" fill="#6c36cc"/>
<ellipse cx="23.9" cy="32.5" rx="2.2" ry="1.5" transform="rotate(108 23.9 32.5)" fill="#5c2ec4"/>
<ellipse cx="25.9" cy="29.5" rx="1.7" ry="1.2" transform="rotate(108 25.9 29.5)" fill="#6632c8"/>
<ellipse cx="13.3" cy="31.5" rx="2.5" ry="1.5" transform="rotate(35 13.3 31.5)" fill="#6632c8"/>
<ellipse cx="16.5" cy="31.9" rx="2.0" ry="1.2" transform="rotate(35 16.5 31.9)" fill="#7640d4"/>
<ellipse cx="65.4" cy="55.7" rx="2.4" ry="1.9" transform="rotate(113 65.4 55.7)" fill="#5c2ec4"/>
</g>
<circle cx="3.3" cy="6.8" r="0.6" fill="#334"/>
<circle cx="59.3" cy="63.2" r="0.6" fill="#334"/>
<circle cx="10.6" cy="66.7" r="0.6" fill="#334"/>
<circle cx="17.9" cy="49.1" r="0.6" fill="#334"/>
<circle cx="3.7" cy="29.0" r="0.6" fill="#334"/>
<circle cx="8.6" cy="59.8" r="0.6" fill="#334"/>
<circle cx="26.1" cy="10.8" r="0.6" fill="#334"/>
<circle cx="26.6" cy="9.7" r="0.6" fill="#334"/>
<circle cx="30.5" cy="41.8" r="0.6" fill="#334"/>
<circle cx="46.8" cy="47.4" r="0.6" fill="#334"/>
<circle cx="26.6" cy="51.7" r="0.6" fill="#334"/>
<circle cx="59.7" cy="9.5" r="0.6" fill="#334"/>
<circle cx="21.2" cy="9.0" r="0.6" fill="#334"/>
<circle cx="35.2" cy="35.0" r="0.6" fill="#334"/>
</svg>
<ellipse cx="114.6" cy="275.6" rx="2.2" ry="1.6" fill="#111" filter="url(#blur03)"/>
<rect x="62.5" y="254.3" width="73.2" height="69.5" fill="none" stroke="#333" stroke-width="1.3" />
<svg x="138.6" y="255.3" width="71.6" height="68.7" viewBox="0 0 71.6 68.7">
<rect x="-35.8" y="-34.35" width="143.2" height="137.4" filter="url(#tex2)" transform="rotate(-40 35.8 34.35)"/>
<g filter="url(#blur05)" fill="#c0a0dc" opacity="0.9">
<ellipse cx="44.6" cy="51.0" rx="4.0" ry="3.2" transform="rotate(133 44.6 51.0)"/>
<ellipse cx="2.1" cy="32.0" rx="4.2" ry="3.0" transform="rotate(162 2.1 32.0)"/>
<ellipse cx="2.1" cy="35.2" rx="3.7" ry="2.6" transform="rotate(162 2.1 35.2)"/>
<ellipse cx="38.9" cy="39.4" rx="3.0" ry="2.6" transform="rotate(50 38.9 39.4)"/>
<ellipse cx="54.8" cy="11.0" rx="4.0" ry="2.5" transform="rotate(111 54.8 11.0)"/>
<ellipse cx="56.6" cy="9.2" rx="3.5" ry="2.3" transform="rotate(111 56.6 9.2)"/>
<ellipse cx="15.0" cy="14.8" rx="4.3" ry="3.2" transform="rotate(52 15.0 14.8)"/>
<ellipse cx="38.6" cy="46.6" rx="3.3" ry="3.2" transform="rotate(124 38.6 46.6)"/>
<ellipse cx="64.0" cy="20.5" rx="3.5" ry="2.5" transform="rotate(26 64.0 20.5)"/>
<ellipse cx="61.6" cy="18.7" rx="3.1" ry="2.3" transform="rotate(26 61.6 18.7)"/>
<ellipse cx="0.2" cy="46.6" rx="3.4" ry="2.7" transform="rotate(147 0.2 46.6)"/>
<ellipse cx="22.6" cy="33.1" rx="3.9" ry="2.5" transform="rotate(176 22.6 33.1)"/>
<ellipse cx="24.6" cy="30.1" rx="3.4" ry="2.2" transform="rotate(176 24.6 30.1)"/>
<ellipse cx="1.3" cy="54.1" rx="3.5" ry="2.9" transform="rotate(2 1.3 54.1)"/>
<ellipse cx="4.0" cy="53.3" rx="3.1" ry="2.6" transform="rotate(2 4.0 53.3)"/>
<ellipse cx="14.1" cy="51.9" rx="4.2" ry="3.2" transform="rotate(62 14.1 51.9)"/>
<ellipse cx="37.6" cy="53.3" rx="3.1" ry="3.1" transform="rotate(144 37.6 53.3)"/>
<ellipse cx="2.6" cy="65.0" rx="3.1" ry="2.7" transform="rotate(110 2.6 65.0)"/>
<ellipse cx="24.3" cy="63.5" rx="3.7" ry="2.7" transform="rotate(57 24.3 63.5)"/>
<ellipse cx="25.9" cy="65.6" rx="3.3" ry="2.4" transform="rotate(57 25.9 65.6)"/>
<ellipse cx="49.3" cy="68.5" rx="3.2" ry="2.4" transform="rotate(178 49.3 68.5)"/>
<ellipse cx="29.1" cy="16.3" rx="3.8" ry="3.1" transform="rotate(82 29.1 16.3)"/>
<ellipse cx="4.0" cy="62.9" rx="3.0" ry="2.8" transform="rotate(151 4.0 62.9)"/>
<ellipse cx="7.4" cy="61.8" rx="2.7" ry="2.5" transform="rotate(151 7.4 61.8)"/>
<ellipse cx="45.1" cy="54.1" rx="3.1" ry="2.8" transform="rotate(27 45.1 54.1)"/>
<ellipse cx="21.1" cy="31.1" rx="4.3" ry="3.2" transform="rotate(176 21.1 31.1)"/>
<ellipse cx="35.0" cy="50.1" rx="3.6" ry="2.7" transform="rotate(73 35.0 50.1)"/>
<ellipse cx="38.0" cy="49.9" rx="3.2" ry="2.4" transform="rotate(73 38.0 49.9)"/>
<ellipse cx="68.7" cy="43.1" rx="3.6" ry="2.7" transform="rotate(16 68.7 43.1)"/>
<ellipse cx="71.2" cy="40.3" rx="3.2" ry="2.4" transform="rotate(16 71.2 40.3)"/>
<ellipse cx="25.9" cy="54.0" rx="4.0" ry="3.0" transform="rotate(120 25.9 54.0)"/>
<ellipse cx="26.0" cy="48.4" rx="3.4" ry="2.8" transform="rotate(139 26.0 48.4)"/>
<ellipse cx="21.0" cy="65.0" rx="3.8" ry="2.9" transform="rotate(2 21.0 65.0)"/>
<ellipse cx="17.9" cy="46.1" rx="3.6" ry="3.1" transform="rotate(117 17.9 46.1)"/>
<ellipse cx="24.9" cy="44.2" rx="4.0" ry="3.1" transform="rotate(63 24.9 44.2)"/>
<ellipse cx="62.3" cy="47.3" rx="4.3" ry="3.3" transform="rotate(93 62.3 47.3)"/>
<ellipse cx="11.9" cy="57.5" rx="4.2" ry="2.8" transform="rotate(124 11.9 57.5)"/>
<ellipse cx="52.3" cy="11.8" rx="4.0" ry="2.9" transform="rotate(120 52.3 11.8)"/>
<ellipse cx="44.7" cy="53.2" rx="3.8" ry="3.0" transform="rotate(5 44.7 53.2)"/>
<ellipse cx="42.8" cy="50.7" rx="3.4" ry="2.7" transform="rotate(5 42.8 50.7)"/>
<ellipse cx="15.7" cy="47.1" rx="3.8" ry="2.4" transform="rotate(85 15.7 47.1)"/>
<ellipse cx="17.4" cy="49.0" rx="3.4" ry="2.2" transform="rotate(85 17.4 49.0)"/>
<ellipse cx="22.7" cy="12.5" rx="3.3" ry="2.4" transform="rotate(84 22.7 12.5)"/>
<ellipse cx="43.8" cy="40.5" rx="3.3" ry="3.2" transform="rotate(0 43.8 40.5)"/>
<ellipse cx="19.9" cy="28.2" rx="3.1" ry="3.1" transform="rotate(67 19.9 28.2)"/>
<ellipse cx="22.8" cy="30.1" rx="2.8" ry="2.8" transform="rotate(67 22.8 30.1)"/>
<ellipse cx="39.0" cy="23.3" rx="3.8" ry="3.3" transform="rotate(147 39.0 23.3)"/>
<ellipse cx="58.2" cy="44.1" rx="3.5" ry="2.5" transform="rotate(107 58.2 44.1)"/>
</g><g filter="url(#blur03)">
<ellipse cx="44.6" cy="51.0" rx="2.5" ry="1.9" transform="rotate(133 44.6 51.0)" fill="#7a3ac8"/>
<ellipse cx="2.1" cy="32.0" rx="2.7" ry="1.7" transform="rotate(162 2.1 32.0)" fill="#7a3ac8"/>
<ellipse cx="2.1" cy="35.2" rx="2.2" ry="1.3" transform="rotate(162 2.1 35.2)" fill="#8c46d2"/>
<ellipse cx="38.9" cy="39.4" rx="1.5" ry="1.3" transform="rotate(50 38.9 39.4)" fill="#9850d8"/>
<ellipse cx="54.8" cy="11.0" rx="2.5" ry="1.2" transform="rotate(111 54.8 11.0)" fill="#8c46d2"/>
<ellipse cx="56.6" cy="9.2" rx="2.0" ry="1.0" transform="rotate(111 56.6 9.2)" fill="#7044cc"/>
<ellipse cx="15.0" cy="14.8" rx="2.8" ry="1.9" transform="rotate(52 15.0 14.8)" fill="#8c46d2"/>
<ellipse cx="38.6" cy="46.6" rx="1.8" ry="1.9" transform="rotate(124 38.6 46.6)" fill="#9850d8"/>
<ellipse cx="64.0" cy="20.5" rx="2.0" ry="1.2" transform="rotate(26 64.0 20.5)" fill="#7a3ac8"/>
<ellipse cx="61.6" cy="18.7" rx="1.6" ry="1.0" transform="rotate(26 61.6 18.7)" fill="#9850d8"/>
<ellipse cx="0.2" cy="46.6" rx="1.9" ry="1.4" transform="rotate(147 0.2 46.6)" fill="#7044cc"/>
<ellipse cx="22.6" cy="33.1" rx="2.4" ry="1.2" transform="rotate(176 22.6 33.1)" fill="#7044cc"/>
<ellipse cx="24.6" cy="30.1" rx="1.9" ry="0.9" transform="rotate(176 24.6 30.1)" fill="#7044cc"/>
<ellipse cx="1.3" cy="54.1" rx="2.0" ry="1.6" transform="rotate(2 1.3 54.1)" fill="#7a3ac8"/>
<ellipse cx="4.0" cy="53.3" rx="1.6" ry="1.3" transform="rotate(2 4.0 53.3)" fill="#7044cc"/>
<ellipse cx="14.1" cy="51.9" rx="2.7" ry="1.9" transform="rotate(62 14.1 51.9)" fill="#9850d8"/>
<ellipse cx="37.6" cy="53.3" rx="1.6" ry="1.8" transform="rotate(144 37.6 53.3)" fill="#7044cc"/>
<ellipse cx="2.6" cy="65.0" rx="1.6" ry="1.4" transform="rotate(110 2.6 65.0)" fill="#7044cc"/>
<ellipse cx="24.3" cy="63.5" rx="2.2" ry="1.4" transform="rotate(57 24.3 63.5)" fill="#7044cc"/>
<ellipse cx="25.9" cy="65.6" rx="1.8" ry="1.1" transform="rotate(57 25.9 65.6)" fill="#7a3ac8"/>
<ellipse cx="49.3" cy="68.5" rx="1.7" ry="1.1" transform="rotate(178 49.3 68.5)" fill="#9850d8"/>
<ellipse cx="29.1" cy="16.3" rx="2.3" ry="1.8" transform="rotate(82 29.1 16.3)" fill="#9850d8"/>
<ellipse cx="4.0" cy="62.9" rx="1.5" ry="1.5" transform="rotate(151 4.0 62.9)" fill="#7044cc"/>
<ellipse cx="7.4" cy="61.8" rx="1.2" ry="1.2" transform="rotate(151 7.4 61.8)" fill="#9850d8"/>
<ellipse cx="45.1" cy="54.1" rx="1.6" ry="1.5" transform="rotate(27 45.1 54.1)" fill="#7044cc"/>
<ellipse cx="21.1" cy="31.1" rx="2.8" ry="1.9" transform="rotate(176 21.1 31.1)" fill="#8c46d2"/>
<ellipse cx="35.0" cy="50.1" rx="2.1" ry="1.4" transform="rotate(73 35.0 50.1)" fill="#9850d8"/>
<ellipse cx="38.0" cy="49.9" rx="1.7" ry="1.1" transform="rotate(73 38.0 49.9)" fill="#9850d8"/>
<ellipse cx="68.7" cy="43.1" rx="2.1" ry="1.4" transform="rotate(16 68.7 43.1)" fill="#7044cc"/>
<ellipse cx="71.2" cy="40.3" rx="1.7" ry="1.1" transform="rotate(16 71.2 40.3)" fill="#9850d8"/>
<ellipse cx="25.9" cy="54.0" rx="2.5" ry="1.7" transform="rotate(120 25.9 54.0)" fill="#7a3ac8"/>
<ellipse cx="26.0" cy="48.4" rx="1.9" ry="1.5" transform="rotate(139 26.0 48.4)" fill="#7044cc"/>
<ellipse cx="21.0" cy="65.0" rx="2.3" ry="1.6" transform="rotate(2 21.0 65.0)" fill="#8c46d2"/>
<ellipse cx="17.9" cy="46.1" rx="2.1" ry="1.8" transform="rotate(117 17.9 46.1)" fill="#8c46d2"/>
<ellipse cx="24.9" cy="44.2" rx="2.5" ry="1.8" transform="rotate(63 24.9 44.2)" fill="#7044cc"/>
<ellipse cx="62.3" cy="47.3" rx="2.8" ry="2.0" transform="rotate(93 62.3 47.3)" fill="#7a3ac8"/>
<ellipse cx="11.9" cy="57.5" rx="2.7" ry="1.5" transform="rotate(124 11.9 57.5)" fill="#9850d8"/>
<ellipse cx="52.3" cy="11.8" rx="2.5" ry="1.6" transform="rotate(120 52.3 11.8)" fill="#8c46d2"/>
<ellipse cx="44.7" cy="53.2" rx="2.3" ry="1.7" transform="rotate(5 44.7 53.2)" fill="#7a3ac8"/>
<ellipse cx="42.8" cy="50.7" rx="1.9" ry="1.4" transform="rotate(5 42.8 50.7)" fill="#7044cc"/>
<ellipse cx="15.7" cy="47.1" rx="2.3" ry="1.1" transform="rotate(85 15.7 47.1)" fill="#8c46d2"/>
<ellipse cx="17.4" cy="49.0" rx="1.9" ry="0.9" transform="rotate(85 17.4 49.0)" fill="#7044cc"/>
<ellipse cx="22.7" cy="12.5" rx="1.8" ry="1.1" transform="rotate(84 22.7 12.5)" fill="#9850d8"/>
<ellipse cx="43.8" cy="40.5" rx="1.8" ry="1.9" transform="rotate(0 43.8 40.5)" fill="#7a3ac8"/>
<ellipse cx="19.9" cy="28.2" rx="1.6" ry="1.8" transform="rotate(67 19.9 28.2)" fill="#7044cc"/>
<ellipse cx="22.8" cy="30.1" rx="1.3" ry="1.5" transform="rotate(67 22.8 30.1)" fill="#8c46d2"/>
<ellipse cx="39.0" cy="23.3" rx="2.3" ry="2.0" transform="rotate(147 39.0 23.3)" fill="#7a3ac8"/>
<ellipse cx="58.2" cy="44.1" rx="2.0" ry="1.2" transform="rotate(107 58.2 44.1)" fill="#7044cc"/>
</g>
<circle cx="19.2" cy="10.6" r="0.6" fill="#334"/>
<circle cx="70.8" cy="20.1" r="0.6" fill="#334"/>
<circle cx="43.5" cy="32.6" r="0.6" fill="#334"/>
<circle cx="46.2" cy="41.5" r="0.6" fill="#334"/>
<circle cx="53.2" cy="8.1" r="0.6" fill="#334"/>
<circle cx="54.4" cy="20.7" r="0.6" fill="#334"/>
<circle cx="38.2" cy="23.1" r="0.6" fill="#334"/>
<circle cx="21.3" cy="36.4" r="0.6" fill="#334"/>
<circle cx="33.2" cy="24.8" r="0.6" fill="#334"/>
<circle cx="53.3" cy="40.6" r="0.6" fill="#334"/>
<circle cx="2.6" cy="17.3" r="0.6" fill="#334"/>
<circle cx="32.6" cy="63.0" r="0.6" fill="#334"/>
<circle cx="63.6" cy="37.5" r="0.6" fill="#334"/>
<circle cx="1.0" cy="53.5" r="0.6" fill="#334"/>
<circle cx="30.6" cy="39.5" r="0.6" fill="#334"/>
<circle cx="50.7" cy="43.4" r="0.6" fill="#334"/>
<circle cx="34.5" cy="62.6" r="0.6" fill="#334"/>
<circle cx="27.6" cy="26.9" r="0.6" fill="#334"/>
<circle cx="61.0" cy="13.5" r="0.6" fill="#334"/>
<circle cx="21.2" cy="57.0" r="0.6" fill="#334"/>
<circle cx="4.7" cy="57.5" r="0.6" fill="#334"/>
<circle cx="49.7" cy="29.7" r="0.6" fill="#334"/>
<circle cx="20.5" cy="53.6" r="0.6" fill="#334"/>
<circle cx="65.2" cy="9.8" r="0.6" fill="#334"/>
<circle cx="34.3" cy="37.7" r="0.6" fill="#334"/>
<circle cx="35.6" cy="22.7" r="0.6" fill="#334"/>
<circle cx="11.0" cy="40.2" r="0.6" fill="#334"/>
<circle cx="58.1" cy="4.7" r="0.6" fill="#334"/>
<circle cx="16.5" cy="56.3" r="0.6" fill="#334"/>
<circle cx="56.7" cy="45.6" r="0.6" fill="#334"/>
</svg>
<rect x="138.6" y="255.3" width="71.6" height="68.7" fill="none" stroke="#222" stroke-width="1.3" />
<rect x="141" y="313.5" width="28" height="7" fill="#b8c8b8" opacity="0.55"/>
<line x1="142.1" y1="311.4" x2="156.7" y2="311.4" stroke="#000" stroke-width="1.5" />
<text x="141.5" y="319" font-size="7.2" text-anchor="start" font-weight="bold" fill="#000" stroke="#000" stroke-width="0.28" textLength="27.3" lengthAdjust="spacingAndGlyphs" >100 µm</text>
<rect x="239.8" y="251.1" width="74" height="61" fill="none" stroke="#000" stroke-width="1" />
<line x1="237.3" y1="312.1" x2="239.8" y2="312.1" stroke="#000" stroke-width="0.9" />
<text x="236.4" y="314.8" font-size="7.8" text-anchor="end" font-weight="bold" fill="#000" stroke="#000" stroke-width="0.28" >0</text>
<line x1="237.3" y1="296.85" x2="239.8" y2="296.85" stroke="#000" stroke-width="0.9" />
<text x="236.4" y="299.55" font-size="7.8" text-anchor="end" font-weight="bold" fill="#000" stroke="#000" stroke-width="0.28" >100</text>
<line x1="237.3" y1="281.6" x2="239.8" y2="281.6" stroke="#000" stroke-width="0.9" />
<text x="236.4" y="284.3" font-size="7.8" text-anchor="end" font-weight="bold" fill="#000" stroke="#000" stroke-width="0.28" >200</text>
<line x1="237.3" y1="266.35" x2="239.8" y2="266.35" stroke="#000" stroke-width="0.9" />
<text x="236.4" y="269.05" font-size="7.8" text-anchor="end" font-weight="bold" fill="#000" stroke="#000" stroke-width="0.28" >300</text>
<line x1="237.3" y1="251.1" x2="239.8" y2="251.1" stroke="#000" stroke-width="0.9" />
<text x="236.4" y="253.79999999999998" font-size="7.8" text-anchor="end" font-weight="bold" fill="#000" stroke="#000" stroke-width="0.28" >400</text>
<text transform="translate(220.6,278.7) rotate(-90)" font-size="7.9" font-weight="bold" text-anchor="middle" fill="#000" stroke="#000" stroke-width="0.28" textLength="36.5" lengthAdjust="spacingAndGlyphs">Mac / field</text>
<line x1="259.65" y1="259.4" x2="259.65" y2="263.9" stroke="#000" stroke-width="1.2" />
<line x1="257.45" y1="259.7" x2="261.84999999999997" y2="259.7" stroke="#000" stroke-width="1.2" />
<rect x="251.7" y="263.9" width="15.900000000000034" height="48.200000000000045" fill="#000" stroke="#000" stroke-width="0.8" />
<line x1="296.1" y1="293.6" x2="296.1" y2="296.2" stroke="#000" stroke-width="1.2" />
<line x1="293.90000000000003" y1="293.90000000000003" x2="298.3" y2="293.90000000000003" stroke="#000" stroke-width="1.2" />
<rect x="288.2" y="296.2" width="15.800000000000011" height="15.900000000000034" fill="url(#hatch)" stroke="#000" stroke-width="1.0" />
<text x="296" y="293" font-size="6.5" text-anchor="middle" font-weight="bold" fill="#000" stroke="#000" stroke-width="0.28" >**</text>
<text x="226.5" y="325" font-size="7.1" text-anchor="start" font-weight="bold" fill="#000" stroke="#000" stroke-width="0.28" textLength="23.4" lengthAdjust="spacingAndGlyphs" >siRNA:</text>
<text x="261.6" y="325" font-size="7.4" text-anchor="middle" font-weight="bold" fill="#000" stroke="#000" stroke-width="0.28" >NS</text>
<text x="298.1" y="325" font-size="7.4" text-anchor="middle" font-weight="bold" fill="#000" stroke="#000" stroke-width="0.28" >p65</text>
<text x="273.8" y="21.2" font-size="10.8" text-anchor="start" font-weight="bold" fill="#000" stroke="#000" stroke-width="0.28" >D</text>
<circle cx="293.7" cy="49.5" r="19.6" fill="#fff" stroke="#000" stroke-width="1.1" />
<text x="280.9" y="43" font-size="5.9" text-anchor="start" font-weight="bold" fill="#000" stroke="#000" stroke-width="0.16" >Gprc5a<tspan font-size="4.5" dy="-2.4">+/+</tspan></text>
<text x="294.8" y="53.9" font-size="7.3" text-anchor="middle" font-weight="bold" fill="#000" stroke="#000" stroke-width="0.28" textLength="21.8" lengthAdjust="spacingAndGlyphs" >NF-κB</text>
<ellipse cx="294.8" cy="62.5" rx="9" ry="5.8" fill="#b2b2b2" stroke="#333" stroke-width="0.9"/>
<line x1="312.5" y1="57.8" x2="340.30431315188565" y2="71.0941905449249" stroke="#000" stroke-width="2.6" />
<polygon points="346.80,74.20 336.95,73.93 340.41,66.71" fill="#000"/>
<circle cx="331.5" cy="60" r="3.9" fill="#fff" stroke="#000" stroke-width="1.0" />
<text x="331.5" y="62.016" font-size="5.6" text-anchor="middle" font-weight="bold" fill="#000" stroke="#000" stroke-width="0.15" >1</text>
<text transform="translate(323.6,71.4) rotate(23.3)" font-size="5.7" font-weight="bold" text-anchor="middle" stroke="#000" stroke-width="0.25">Gprc5a-KO</text>
<circle cx="371.3" cy="82.2" r="22.5" fill="#adadad" stroke="#666" stroke-width="0.9" />
<circle cx="370.8" cy="75.2" r="11.6" fill="#fff" stroke="#666" stroke-width="0.6" />
<circle cx="371.6" cy="67.4" r="3.9" fill="#fff" stroke="#000" stroke-width="1.0" />
<text x="371.6" y="69.41600000000001" font-size="5.6" text-anchor="middle" font-weight="bold" fill="#000" stroke="#000" stroke-width="0.15" >2</text>
<text x="370.8" y="77.6" font-size="5.9" text-anchor="middle" font-weight="bold" fill="#000" stroke="#000" stroke-width="0.16" >NF-κB</text>
<text x="370.5" y="93.6" font-size="5.9" text-anchor="middle" font-weight="bold" fill="#000" stroke="#000" stroke-width="0.16" >Gprc5a<tspan font-size="4.3" dy="-2.3">-/-</tspan></text>
<path d="M357,67.5 C342,60 340,37 352,29.8" fill="none" stroke="#000" stroke-width="1.1"/>
<polygon points="357.30,28.70 352.05,32.59 350.87,27.53" fill="#000"/>
<circle cx="361.2" cy="27.2" r="3.9" fill="#fff" stroke="#000" stroke-width="1.0" />
<text x="361.2" y="29.216" font-size="5.6" text-anchor="middle" font-weight="bold" fill="#000" stroke="#000" stroke-width="0.15" >3</text>
<path d="M357,67.5 C351,64 350.5,59 353.5,56" fill="none" stroke="#000" stroke-width="1.1"/>
<polygon points="358.20,53.60 354.40,59.00 351.63,54.24" fill="#000"/>
<circle cx="362" cy="51.2" r="3.9" fill="#fff" stroke="#000" stroke-width="1.0" />
<text x="362" y="53.216" font-size="5.6" text-anchor="middle" font-weight="bold" fill="#000" stroke="#000" stroke-width="0.15" >4</text>
<text x="370.4" y="27.6" font-size="5.9" text-anchor="start" font-weight="bold" fill="#000" stroke="#000" stroke-width="0.16" textLength="90.2" lengthAdjust="spacingAndGlyphs" >Enhanced proliferation (cyclin D1)</text>
<text x="370.4" y="34" font-size="5.9" text-anchor="start" font-weight="bold" fill="#000" stroke="#000" stroke-width="0.16" textLength="69.6" lengthAdjust="spacingAndGlyphs" >Suppressed differentiation</text>
<text x="370.4" y="40.1" font-size="5.9" text-anchor="start" font-weight="bold" fill="#000" stroke="#000" stroke-width="0.16" textLength="29.8" lengthAdjust="spacingAndGlyphs" >Immortality</text>
<text x="370.4" y="51.8" font-size="6.0" text-anchor="start" font-weight="bold" fill="#000" stroke="#000" stroke-width="0.16" textLength="35.6" lengthAdjust="spacingAndGlyphs" >Antiapoptosis</text>
<rect x="383.8" y="70" width="9" height="5.4" fill="#b9c9d3" stroke="none" stroke-width="0" />
<path d="M385.4,56.6 C391,58 393,63 388.5,67" fill="none" stroke="#000" stroke-width="1.1"/>
<polygon points="386.80,70.30 386.67,64.26 391.26,66.23" fill="#000"/>
<path d="M403.8,56 C403,66 398,70 392,72.5" fill="none" stroke="#000" stroke-width="1.1"/>
<polygon points="387.50,74.80 391.27,70.08 393.54,74.54" fill="#000"/>
<rect x="397.6" y="75.7" width="36" height="3" fill="#4a92dc" stroke="#16305e" stroke-width="0.8"/>
<polygon points="444.9,77.2 431.2,74.3 434,77.2 431.2,80.1" fill="#4a92dc" stroke="#16305e" stroke-width="0.7"/>
<circle cx="422.7" cy="76.8" r="4" fill="#fff" stroke="#000" stroke-width="1.0" />
<text x="422.7" y="78.816" font-size="5.6" text-anchor="middle" font-weight="bold" fill="#000" stroke="#000" stroke-width="0.15" >5</text>
<text x="403.5" y="70.1" font-size="5.6" text-anchor="start" font-weight="bold" fill="#33201a" stroke="#33201a" stroke-width="0.16" textLength="40.7" lengthAdjust="spacingAndGlyphs" >Ccl2, Ccl5, Csf1</text>
<circle cx="458.5" cy="75.7" r="13.1" fill="#fff" stroke="#000" stroke-width="1.5" />
<text x="457.0" y="79.6" font-size="8.2" text-anchor="middle" font-weight="bold" fill="#000" stroke="#000" stroke-width="0.28" >MF</text>
<path d="M447.8,89.2 L441.5,95.4" stroke="#5f7f74" stroke-width="2.8"/><path d="M447.8,89.2 L441.5,95.4" stroke="#fff" stroke-width="1.1"/>
<polygon points="437.6,97.3 438.6,91.8 443.2,96.3" fill="#fff" stroke="#5f7f74" stroke-width="0.7"/>
<clipPath id="amf"><circle cx="420.1" cy="109.6" r="19.8"/></clipPath>
<g clip-path="url(#amf)"><rect x="399" y="88" width="43" height="43" filter="url(#speck)"/><rect x="402.5" y="99" width="35.5" height="20.5" rx="6" fill="#fff"/></g>
<circle cx="420.1" cy="109.6" r="19.8" fill="none" stroke="#4a5560" stroke-width="0.9" />
<text x="420.5" y="105.6" font-size="5.8" text-anchor="middle" font-weight="bold" fill="#000" stroke="#000" stroke-width="0.16" textLength="25" lengthAdjust="spacingAndGlyphs" >Activated</text>
<text x="421.1" y="115.2" font-size="8.1" text-anchor="middle" font-weight="bold" fill="#000" stroke="#000" stroke-width="0.28" >MF</text>
<line x1="351.2" y1="94.4" x2="318.31022368489715" y2="117.81609074607863" stroke="#000" stroke-width="1.5" />
<polygon points="314.40,120.60 317.69,114.88 320.88,119.36" fill="#000"/>
<circle cx="336.3" cy="103.5" r="3.9" fill="#fff" stroke="#000" stroke-width="1.0" />
<text x="336.3" y="105.516" font-size="5.6" text-anchor="middle" font-weight="bold" fill="#000" stroke="#000" stroke-width="0.15" >6</text>
<text x="316.9" y="91.8" font-size="5.7" text-anchor="start" font-weight="bold" fill="#000" stroke="#000" stroke-width="0.16" >Cxcl1</text>
<text x="316.9" y="98.9" font-size="5.7" text-anchor="start" font-weight="bold" fill="#000" stroke="#000" stroke-width="0.16" >Cxcl5</text>
<text x="316.9" y="105.7" font-size="5.7" text-anchor="start" font-weight="bold" fill="#000" stroke="#000" stroke-width="0.16" >Ccl2</text>
<text x="294.4" y="110.5" font-size="5.9" text-anchor="start" font-weight="bold" fill="#3434c6" stroke="#3434c6" stroke-width="0.16" textLength="17.9" lengthAdjust="spacingAndGlyphs" >Cxcl10</text>
<line x1="299.5" y1="111.8" x2="299.5" y2="118.5" stroke="#22c08a" stroke-width="1" />
<line x1="294.4" y1="118.5" x2="305" y2="118.5" stroke="#22c08a" stroke-width="1.1" />
<rect x="280" y="122.7" width="40.4" height="14.4" fill="#fff" stroke="#555" stroke-width="0.9" />
<text x="300.2" y="131.6" font-size="5.6" text-anchor="middle" font-weight="bold" fill="#000" stroke="#000" stroke-width="0.16" textLength="35.6" lengthAdjust="spacingAndGlyphs" >Angiogenesis</text>
<line x1="294" y1="140" x2="304.6" y2="140" stroke="#22c08a" stroke-width="1.1" />
<line x1="299.5" y1="140" x2="299.5" y2="146.7" stroke="#22c08a" stroke-width="1" />
<text x="297" y="154.5" font-size="5.8" text-anchor="start" font-weight="bold" fill="#3434c6" stroke="#3434c6" stroke-width="0.16" >Il-12</text>
<text x="297" y="161.2" font-size="5.8" text-anchor="start" font-weight="bold" fill="#3434c6" stroke="#3434c6" stroke-width="0.16" >Il-27</text>
<text x="297" y="168" font-size="5.8" text-anchor="start" font-weight="bold" fill="#3434c6" stroke="#3434c6" stroke-width="0.16" >Ifnγ</text>
<text x="335.8" y="117.5" font-size="5.8" text-anchor="start" font-weight="bold" fill="#000" stroke="#000" stroke-width="0.16" textLength="25.3" lengthAdjust="spacingAndGlyphs" >Il-1β,  Il-2,</text>
<text x="335.8" y="124" font-size="5.8" text-anchor="start" font-weight="bold" fill="#000" stroke="#000" stroke-width="0.16" textLength="26.5" lengthAdjust="spacingAndGlyphs" >Il-13, Il-17,</text>
<text x="334.6" y="130.4" font-size="5.8" text-anchor="start" font-weight="bold" fill="#000" stroke="#000" stroke-width="0.16" >Tnfα</text>
<line x1="334" y1="124.8" x2="326.3236182436061" y2="126.32204121031947" stroke="#000" stroke-width="1.3" />
<polygon points="322.40,127.10 326.87,123.92 327.74,128.33" fill="#000"/>
<line x1="363.4" y1="117.8" x2="399.5" y2="110.6" stroke="#000" stroke-width="1.1" />
<circle cx="382.7" cy="116.3" r="3.9" fill="#fff" stroke="#000" stroke-width="1.0" />
<text x="382.7" y="118.316" font-size="5.6" text-anchor="middle" font-weight="bold" fill="#000" stroke="#000" stroke-width="0.15" >7</text>
<line x1="400" y1="112" x2="316.4220960334419" y2="148.9363453831914" stroke="#22c08a" stroke-width="1.5" />
<polygon points="311.30,151.20 316.49,145.63 318.92,151.11" fill="#22c08a"/>
<line x1="320.4" y1="137" x2="352.8323971690715" y2="150.54225094559635" stroke="#000" stroke-width="1.3" />
<polygon points="358.00,152.70 350.38,152.77 352.70,147.23" fill="#000"/>
<line x1="320.4" y1="137" x2="365.55414076352355" y2="212.8627831048181" stroke="#000" stroke-width="1.2" />
<polygon points="367.60,216.30 363.32,213.03 366.76,210.98" fill="#000"/>
<line x1="371.8" y1="104.5" x2="371.8" y2="168" stroke="#000" stroke-width="2.4" />
<polygon points="368.8,166 374.8,166 371.8,193.3" fill="#000"/>
<circle cx="371.8" cy="160.3" r="4.3" fill="#fff" stroke="#000" stroke-width="1.0" />
<text x="371.8" y="162.10000000000002" font-size="5" text-anchor="middle" font-weight="bold" fill="#000" stroke="#000" stroke-width="0.15" >10</text>
<text transform="translate(366.4,159) rotate(-90)" font-size="5.9" font-weight="normal" text-anchor="middle" fill="#000" stroke="#000" stroke-width="0.12" textLength="52" lengthAdjust="spacingAndGlyphs">Tumor development</text>
<polygon points="377.8,161.3 387.3,156.4 387.3,166.2" fill="#000"/>
<line x1="396.4" y1="167" x2="389.8810195658376" y2="102.27583711795967" stroke="#000" stroke-width="1.1" />
<polygon points="389.40,97.50 392.24,103.24 387.76,103.70" fill="#000"/>
<circle cx="392.6" cy="138.5" r="3.9" fill="#fff" stroke="#000" stroke-width="1.0" />
<text x="392.6" y="140.516" font-size="5.6" text-anchor="middle" font-weight="bold" fill="#000" stroke="#000" stroke-width="0.15" >9</text>
<text x="400" y="137.7" font-size="5.6" text-anchor="start" font-weight="bold" fill="#000" stroke="#000" stroke-width="0.16" >Il-12</text>
<text x="400" y="144.4" font-size="5.6" text-anchor="start" font-weight="bold" fill="#000" stroke="#000" stroke-width="0.16" >Il-13</text>
<path d="M412.79999999999995,148.5 L412.79999999999995,134.5 L411.4,134.5 L414.4,130.5 L417.4,134.5 L416.0,134.5 L416.0,148.5 Z" fill="#fff" stroke="#5f8a80" stroke-width="0.8"/>
<path d="M424.9,130.5 L424.9,144.5 L423.5,144.5 L426.5,148.5 L429.5,144.5 L428.1,144.5 L428.1,130.5 Z" fill="#fff" stroke="#5f8a80" stroke-width="0.8"/>
<circle cx="420.4" cy="140.2" r="3.9" fill="#fff" stroke="#000" stroke-width="1.0" />
<text x="420.4" y="142.21599999999998" font-size="5.6" text-anchor="middle" font-weight="bold" fill="#000" stroke="#000" stroke-width="0.15" >8</text>
<rect x="390.6" y="151.2" width="74.6" height="86.2" fill="none" stroke="#333" stroke-width="0.8" stroke-dasharray="1 1.2"/>
<text x="402.3" y="157.3" font-size="5.8" text-anchor="start" font-weight="bold" fill="#000" stroke="#000" stroke-width="0.16" textLength="43.5" lengthAdjust="spacingAndGlyphs" >Proinflammatory</text>
<text x="401.8" y="164" font-size="5.8" text-anchor="start" font-weight="bold" fill="#000" stroke="#000" stroke-width="0.16" textLength="48.7" lengthAdjust="spacingAndGlyphs" >microenvironment</text>
<rect x="392.5" y="166.5" width="70.8" height="30.3" fill="#fff" stroke="#222" stroke-width="1.1" />
<line x1="392" y1="196.9" x2="463.5" y2="196.9" stroke="#222" stroke-width="1.8" />
<text x="396.3" y="174.0" font-size="5.5" text-anchor="start" font-weight="bold" fill="#000" stroke="#000" stroke-width="0.16" >Il-1β</text>
<text x="423.3" y="174.0" font-size="5.5" text-anchor="start" font-weight="bold" fill="#000" stroke="#000" stroke-width="0.16" >Il-13</text>
<text x="444.4" y="174.0" font-size="5.5" text-anchor="start" font-weight="bold" fill="#000" stroke="#000" stroke-width="0.16" >Tnfa</text>
<text x="396.3" y="181.0" font-size="5.5" text-anchor="start" font-weight="bold" fill="#000" stroke="#000" stroke-width="0.16" >Il-6, Il-27</text>
<text x="423.3" y="181.0" font-size="5.5" text-anchor="start" font-weight="bold" fill="#000" stroke="#000" stroke-width="0.16" >Il-17</text>
<text x="444.4" y="181.0" font-size="5.5" text-anchor="start" font-weight="bold" fill="#000" stroke="#000" stroke-width="0.16" >Cxcl2</text>
<text x="396.3" y="187.5" font-size="5.5" text-anchor="start" font-weight="bold" fill="#000" stroke="#000" stroke-width="0.16" >Il-7</text>
<text x="423.3" y="187.5" font-size="5.5" text-anchor="start" font-weight="bold" fill="#000" stroke="#000" stroke-width="0.16" >Il-23</text>
<text x="444.4" y="187.5" font-size="5.5" text-anchor="start" font-weight="bold" fill="#000" stroke="#000" stroke-width="0.16" >Ccl28</text>
<text x="396.3" y="193.7" font-size="5.5" text-anchor="start" font-weight="bold" fill="#000" stroke="#000" stroke-width="0.16" >Il-10</text>
<rect x="409.2" y="197.9" width="54" height="39.2" fill="#fff" stroke="#3030b8" stroke-width="1.2" />
<line x1="409" y1="198.2" x2="463.5" y2="198.2" stroke="#1e1e80" stroke-width="1.4" />
<text x="412.3" y="208.0" font-size="5.5" text-anchor="start" font-weight="bold" fill="#3434c6" stroke="#3434c6" stroke-width="0.16" >Il-2, Il-7, Il-12, Il-16,</text>
<text x="412.3" y="214.5" font-size="5.5" text-anchor="start" font-weight="bold" fill="#3434c6" stroke="#3434c6" stroke-width="0.16" >Il-23, IL-27</text>
<text x="412.3" y="221.0" font-size="5.5" text-anchor="start" font-weight="bold" fill="#3434c6" stroke="#3434c6" stroke-width="0.16" >Ifnγ</text>
<text x="412.3" y="227.5" font-size="5.5" text-anchor="start" font-weight="bold" fill="#3434c6" stroke="#3434c6" stroke-width="0.16" >GM-Csf</text>
<text x="412.3" y="234.0" font-size="5.5" text-anchor="start" font-weight="bold" fill="#3434c6" stroke="#3434c6" stroke-width="0.16" >Icam1</text>
<line x1="403.3" y1="213.5" x2="403.3" y2="225.5" stroke="#22c08a" stroke-width="1.1" />
<line x1="403.3" y1="219.5" x2="409.2" y2="219.5" stroke="#22c08a" stroke-width="1.1" />
<path d="M403.8,196.5 C404.5,212 398,220.5 384,220.8" fill="none" stroke="#000" stroke-width="1.8"/>
<polygon points="378.80,220.80 385.30,217.55 385.30,224.05" fill="#000"/>
<polygon points="380.00,160.50 388.00,156.00 388.00,165.00" fill="#000"/>
<text x="372.4" y="200.6" font-size="7.1" text-anchor="middle" font-weight="bold" fill="#000" stroke="#000" stroke-width="0.28" textLength="32.2" lengthAdjust="spacingAndGlyphs" >Adenoma</text>
<rect x="369.6" y="203.2" width="4.4" height="25.5" fill="#d82020" stroke="#901010" stroke-width="0.5"/>
<polygon points="367.2,228.2 376.4,228.2 371.8,237" fill="#d82020" stroke="#901010" stroke-width="0.5"/>
<circle cx="371.8" cy="220.4" r="4.5" fill="#fff" stroke="#000" stroke-width="1.2" />
<text x="371.8" y="222.3" font-size="5" text-anchor="middle" font-weight="bold" fill="#000" stroke="#000" stroke-width="0.15" >11</text>
<text x="328.2" y="221.5" font-size="6.2" text-anchor="start" font-weight="normal" fill="#e02828" stroke="#e02828" stroke-width="0.3" textLength="32.4" lengthAdjust="spacingAndGlyphs" >Progression</text>
<text x="344" y="244" font-size="7.5" text-anchor="start" font-weight="bold" fill="#000" stroke="#000" stroke-width="0.28" textLength="59.4" lengthAdjust="spacingAndGlyphs" >Adenocarcinoma</text>
<rect x="0.5" y="0.5" width="519" height="337.8" fill="none" stroke="#2424a4" stroke-width="1.2"/>
</svg></body></html>
